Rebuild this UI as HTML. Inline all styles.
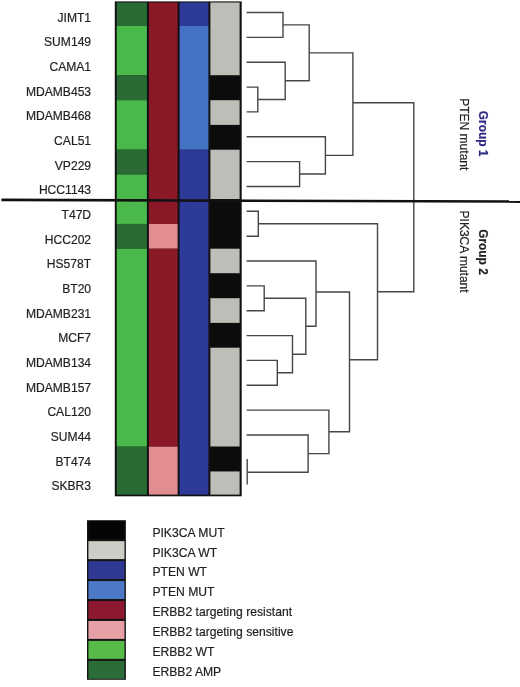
<!DOCTYPE html>
<html><head><meta charset="utf-8"><title>Figure</title>
<style>
html,body{margin:0;padding:0;background:#fff;}
svg{display:block;}
text{font-family:"Liberation Sans",Arial,sans-serif;fill:#231f20;stroke:#231f20;stroke-width:0.2px;}
</style></head><body>
<svg width="520" height="687" viewBox="0 0 520 687">
<rect x="0" y="0" width="520" height="687" fill="#ffffff"/>
<rect x="114.8" y="1.4" width="126.89999999999999" height="494.90000000000003" fill="#111"/>
<rect x="116.70" y="2.50" width="30.20" height="23.45" fill="#2a6a35"/>
<rect x="116.70" y="25.95" width="30.20" height="49.50" fill="#4bb84c"/>
<rect x="116.70" y="75.45" width="30.20" height="24.75" fill="#2a6a35"/>
<rect x="116.70" y="100.20" width="30.20" height="49.50" fill="#4bb84c"/>
<rect x="116.70" y="149.70" width="30.20" height="24.75" fill="#2a6a35"/>
<rect x="116.70" y="174.45" width="30.20" height="49.50" fill="#4bb84c"/>
<rect x="116.70" y="223.95" width="30.20" height="24.75" fill="#2a6a35"/>
<rect x="116.70" y="248.70" width="30.20" height="198.00" fill="#4bb84c"/>
<rect x="116.70" y="446.70" width="30.20" height="47.90" fill="#2a6a35"/>
<rect x="148.90" y="2.50" width="28.70" height="221.45" fill="#8a1827"/>
<rect x="148.90" y="223.95" width="28.70" height="24.75" fill="#e18d92"/>
<rect x="148.90" y="248.70" width="28.70" height="198.00" fill="#8a1827"/>
<rect x="148.90" y="446.70" width="28.70" height="47.90" fill="#e18d92"/>
<rect x="179.60" y="2.50" width="28.80" height="23.45" fill="#2e3a98"/>
<rect x="179.60" y="25.95" width="28.80" height="123.75" fill="#4472c4"/>
<rect x="179.60" y="149.70" width="28.80" height="344.90" fill="#2e3a98"/>
<rect x="210.40" y="2.50" width="29.20" height="72.95" fill="#bebeb8"/>
<rect x="210.40" y="75.45" width="29.20" height="24.75" fill="#0c0c0c"/>
<rect x="210.40" y="100.20" width="29.20" height="24.75" fill="#bebeb8"/>
<rect x="210.40" y="124.95" width="29.20" height="24.75" fill="#0c0c0c"/>
<rect x="210.40" y="149.70" width="29.20" height="49.50" fill="#bebeb8"/>
<rect x="210.40" y="199.20" width="29.20" height="49.50" fill="#0c0c0c"/>
<rect x="210.40" y="248.70" width="29.20" height="24.75" fill="#bebeb8"/>
<rect x="210.40" y="273.45" width="29.20" height="24.75" fill="#0c0c0c"/>
<rect x="210.40" y="298.20" width="29.20" height="24.75" fill="#bebeb8"/>
<rect x="210.40" y="322.95" width="29.20" height="24.75" fill="#0c0c0c"/>
<rect x="210.40" y="347.70" width="29.20" height="99.00" fill="#bebeb8"/>
<rect x="210.40" y="446.70" width="29.20" height="24.75" fill="#0c0c0c"/>
<rect x="210.40" y="471.45" width="29.20" height="23.15" fill="#bebeb8"/>
<text x="91.1" y="21.50" font-size="12.1" text-anchor="end">JIMT1</text>
<text x="91.1" y="46.18" font-size="12.1" text-anchor="end">SUM149</text>
<text x="91.1" y="70.86" font-size="12.1" text-anchor="end">CAMA1</text>
<text x="91.1" y="95.54" font-size="12.1" text-anchor="end">MDAMB453</text>
<text x="91.1" y="120.22" font-size="12.1" text-anchor="end">MDAMB468</text>
<text x="91.1" y="144.90" font-size="12.1" text-anchor="end">CAL51</text>
<text x="91.1" y="169.58" font-size="12.1" text-anchor="end">VP229</text>
<text x="91.1" y="194.26" font-size="12.1" text-anchor="end">HCC1143</text>
<text x="91.1" y="218.94" font-size="12.1" text-anchor="end">T47D</text>
<text x="91.1" y="243.62" font-size="12.1" text-anchor="end">HCC202</text>
<text x="91.1" y="268.30" font-size="12.1" text-anchor="end">HS578T</text>
<text x="91.1" y="292.98" font-size="12.1" text-anchor="end">BT20</text>
<text x="91.1" y="317.66" font-size="12.1" text-anchor="end">MDAMB231</text>
<text x="91.1" y="342.34" font-size="12.1" text-anchor="end">MCF7</text>
<text x="91.1" y="367.02" font-size="12.1" text-anchor="end">MDAMB134</text>
<text x="91.1" y="391.70" font-size="12.1" text-anchor="end">MDAMB157</text>
<text x="91.1" y="416.38" font-size="12.1" text-anchor="end">CAL120</text>
<text x="91.1" y="441.06" font-size="12.1" text-anchor="end">SUM44</text>
<text x="91.1" y="465.74" font-size="12.1" text-anchor="end">BT474</text>
<text x="91.1" y="490.42" font-size="12.1" text-anchor="end">SKBR3</text>
<path d="M247.3 12.5H283.0M247.3 37.4H283.0M283.0 12.5V37.4M247.3 87.1H257.8M247.3 111.9H257.8M257.8 87.1V111.9M247.3 62.2H285.2M257.8 99.5H285.2M285.2 62.2V99.5M283.0 24.9H309.2M285.2 80.8H309.2M309.2 24.9V80.8M247.3 161.6H299.6M247.3 186.5H299.6M299.6 161.6V186.5M247.3 136.8H325.4M299.6 174.0H325.4M325.4 136.8V174.0M309.2 52.9H352.9M325.4 155.4H352.9M352.9 52.9V155.4M247.3 211.3H258.3M247.3 236.2H258.3M258.3 211.3V236.2M247.3 285.9H264.2M247.3 310.7H264.2M264.2 285.9V310.7M247.3 360.4H277.3M247.3 385.2H277.3M277.3 360.4V385.2M247.3 335.6H292.5M277.3 372.8H292.5M292.5 335.6V372.8M264.2 298.3H305.8M292.5 354.2H305.8M305.8 298.3V354.2M247.3 261.0H316.0M305.8 326.2H316.0M316.0 261.0V326.2M247.2 459.8V483.9M247.3 435.0H308.1M247.3 472.2H308.1M308.1 435.0V472.2M247.3 410.1H328.9M308.1 453.6H328.9M328.9 410.1V453.6M316.0 292.0H349.5M328.9 431.8H349.5M349.5 292.0V431.8M258.3 223.7H377.5M349.5 359.7H377.5M377.5 223.7V359.7M352.9 102.7H413.8M377.5 291.7H413.8M413.8 102.7V291.7" fill="none" stroke="#464646" stroke-width="1.4" stroke-linecap="square"/>
<path d="M1.4 199.9L520 201.6" stroke="#111" stroke-width="2.6" fill="none"/>
<text transform="translate(479.3,133.6) rotate(90)" text-anchor="middle" font-size="11.9" font-weight="bold" style="fill:#2e2a85;stroke:#2e2a85">Group 1</text>
<text transform="translate(460.3,134.3) rotate(90)" text-anchor="middle" font-size="12">PTEN mutant</text>
<text transform="translate(479.3,252.0) rotate(90)" text-anchor="middle" font-size="11.9" font-weight="bold">Group 2</text>
<text transform="translate(460.3,251.6) rotate(90)" text-anchor="middle" font-size="12">PIK3CA mutant</text>
<rect x="87.0" y="520.2" width="38.90" height="159.60" fill="#141414"/>
<rect x="88.4" y="521.20" width="36.10" height="17.95" fill="#050505"/>
<text x="152.4" y="536.60" font-size="12.15">PIK3CA MUT</text>
<rect x="88.4" y="541.15" width="36.10" height="17.95" fill="#cdcdc7"/>
<text x="152.4" y="556.50" font-size="12.15">PIK3CA WT</text>
<rect x="88.4" y="561.10" width="36.10" height="17.95" fill="#2f3892"/>
<text x="152.4" y="576.40" font-size="12.15">PTEN WT</text>
<rect x="88.4" y="581.05" width="36.10" height="17.95" fill="#4c78c6"/>
<text x="152.4" y="596.30" font-size="12.15">PTEN MUT</text>
<rect x="88.4" y="601.00" width="36.10" height="17.95" fill="#8d1830"/>
<text x="152.4" y="616.20" font-size="12.15">ERBB2 targeting resistant</text>
<rect x="88.4" y="620.95" width="36.10" height="17.95" fill="#e6a0a6"/>
<text x="152.4" y="636.10" font-size="12.15">ERBB2 targeting sensitive</text>
<rect x="88.4" y="640.90" width="36.10" height="17.95" fill="#58ba48"/>
<text x="152.4" y="656.00" font-size="12.15">ERBB2 WT</text>
<rect x="88.4" y="660.85" width="36.10" height="17.95" fill="#2c6c38"/>
<text x="152.4" y="675.90" font-size="12.15">ERBB2 AMP</text>
</svg></body></html>
